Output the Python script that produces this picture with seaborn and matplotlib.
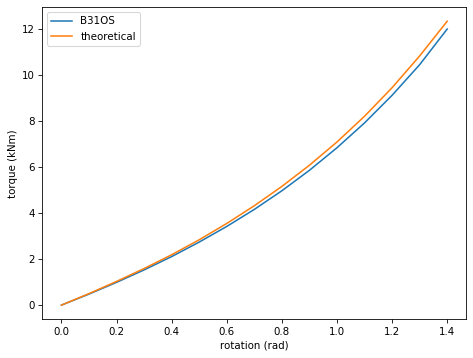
import matplotlib
matplotlib.use("Agg")
import matplotlib.pyplot as plt
import seaborn as sns

rotation = [0.0, 0.1, 0.2, 0.3, 0.4, 0.5, 0.6, 0.7, 0.8, 0.9, 1.0, 1.1, 1.2, 1.3, 1.4]
b31os = [0.0, 0.48, 0.99, 1.53, 2.11, 2.74, 3.42, 4.16, 4.97, 5.86, 6.84, 7.92, 9.12, 10.45, 12.0]
theoretical = [0.0, 0.5, 1.03, 1.59, 2.19, 2.84, 3.55, 4.32, 5.16, 6.08, 7.09, 8.21, 9.45, 10.83, 12.34]

sns.set_style("ticks")
plt.rcParams.update(matplotlib.rcParamsDefault)
matplotlib.use("Agg")

fig, ax = plt.subplots(figsize=(6.4, 4.84), dpi=74)
fig.subplots_adjust(left=0.089, right=0.985, top=0.98, bottom=0.108)
sns.lineplot(x=rotation, y=b31os, ax=ax, label="B31OS", color="#1f77b4")
sns.lineplot(x=rotation, y=theoretical, ax=ax, label="theoretical", color="#ff7f0e")
ax.set_xlabel("rotation (rad)")
ax.set_ylabel("torque (kNm)")
ax.legend(loc="upper left")
fig.savefig("out.png", dpi=74)
